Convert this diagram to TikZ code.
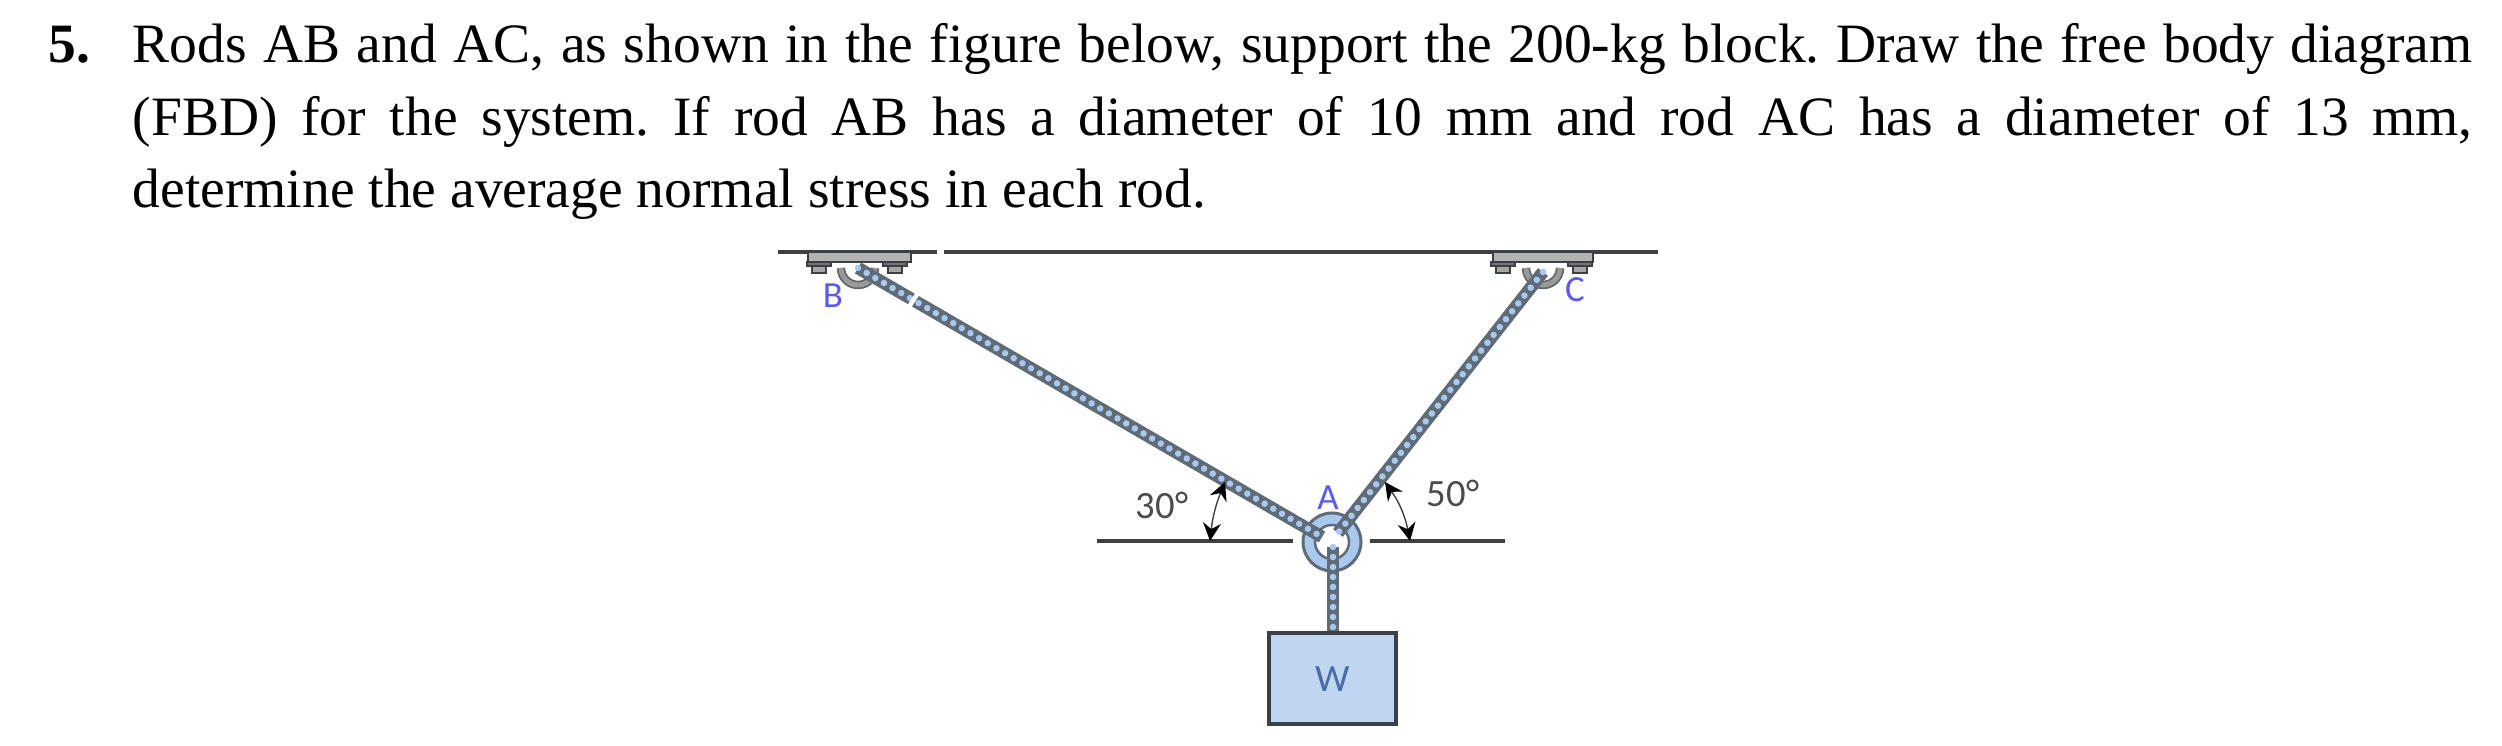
\documentclass[tikz,border=0pt]{standalone}
\usepackage{fontspec}
\setmainfont{Liberation Serif}
\newfontfamily\labelfont{Carlito}
\usetikzlibrary{arrows.meta}
\definecolor{rodedge}{HTML}{5F6C78}
\definecolor{rodbead}{HTML}{A9C8EE}
\definecolor{blockblue}{HTML}{BFD5F0}
\definecolor{edgedark}{HTML}{3C4044}
\definecolor{letterblue}{HTML}{5A5AF0}
\definecolor{weightblue}{HTML}{4A6AA8}
\tikzset{
	textline/.style={anchor=base west,inner sep=0pt,font=\fontsize{15.8}{20}\selectfont\frenchspacing},
	pointlabel/.style={inner sep=0pt,text=letterblue,font=\labelfont\fontsize{10.5}{12}\selectfont},
	anglelabel/.style={inner sep=0pt,text=black!70,font=\labelfont\fontsize{11}{12}\selectfont},
	refline/.style={line width=0.035cm,draw=black!75},
	anglearrow/.style={line width=0.014cm,draw=black!75,{Stealth[length=0.18cm,width=0.18cm,inset=0.06cm,color=black]}-{Stealth[length=0.18cm,width=0.18cm,inset=0.06cm,color=black]}}
}
\def\rod(#1)(#2){\draw[line width=0.125cm,rodedge] (#1) -- (#2);
	\draw[line width=0.065cm,rodbead,line cap=round,dash pattern=on 0pt off 0.1cm] (#1) -- (#2);}
\def\bolt(#1,#2){\draw[fill=black!55,draw=edgedark,line width=0.02cm] (#1-0.12,#2) rectangle (#1+0.12,#2-0.04);
	\draw[fill=black!35,draw=edgedark,line width=0.02cm] (#1-0.07,#2-0.04) rectangle (#1+0.07,#2-0.11);}
\def\mount(#1,#2){\draw[line width=0.085cm,edgedark!80] (#1-0.17,#2) arc (180:360:0.17);
	\draw[line width=0.05cm,black!40] (#1-0.17,#2) arc (180:360:0.17);}

\begin{document}
\begin{tikzpicture}
	\useasboundingbox (0,0) rectangle (25.02,7.46);
	
	\node[textline] (number) at (0.48,6.83) {\textbf{5.}};
	\node[textline] (lineone) at (1.32,6.83) {\makebox[23.4cm][s]{Rods AB and AC, as shown in the figure below, support the 200-kg block. Draw the free body diagram}};
	\node[textline] (linetwo) at (1.32,6.10) {\makebox[23.4cm][s]{(FBD) for the system. If rod AB has a diameter of 10 mm and rod AC has a diameter of 13 mm,}};
	\node[textline] (linethree) at (1.32,5.38) {determine the average normal stress in each rod.};
	
	\coordinate (B) at (8.58,4.78);
	\coordinate (C) at (15.43,4.74);
	\coordinate (A) at (13.32,2.04);
	\coordinate (Aleft) at (13.22,2.09);
	\coordinate (Aright) at (13.38,2.13);
	\coordinate (Adown) at (13.33,1.99);
	\coordinate (Wtop) at (13.33,1.13);
	
	% ceiling
	\draw[refline] (7.78,4.94) -- (9.37,4.94);
	\draw[refline] (9.44,4.94) -- (16.58,4.94);
	
	% plates and bolts
	\draw[fill=black!30,draw=edgedark,line width=0.025cm] (8.08,4.94) rectangle (9.11,4.84);
	\draw[fill=black!30,draw=edgedark,line width=0.025cm] (14.93,4.94) rectangle (15.93,4.84);
	\bolt(8.19,4.84)
	\bolt(8.95,4.84)
	\bolt(15.03,4.84)
	\bolt(15.80,4.84)
	\mount(8.58,4.78)
	\mount(15.43,4.78)
	
	% ring
	\draw[fill=rodbead,draw=rodedge,line width=0.03cm] (A) circle (0.29);
	\draw[fill=white,draw=rodedge,line width=0.025cm] (A) circle (0.17);
	
	% rods
	\rod(B)(Aleft)
	\rod(C)(Aright)
	\rod(Adown)(Wtop)
	\draw[line width=0.045cm,white] (9.18,4.53) -- (9.07,4.36);
	
	% block
	\draw[fill=blockblue,draw=edgedark,line width=0.04cm] (12.69,1.13) rectangle (13.96,0.22);
	\node[inner sep=0pt,text=weightblue,font=\labelfont\fontsize{11}{12}\selectfont] (weight) at (13.33,0.67) {W};
	
	% angles
	\coordinate (arcleftlow) at (12.10,2.05);
	\coordinate (arcleftup) at (12.25,2.64);
	\coordinate (arcrightlow) at (14.10,2.05);
	\coordinate (arcrightup) at (13.85,2.64);
	\draw[refline] (10.97,2.05) -- (12.93,2.05);
	\draw[refline] (13.70,2.05) -- (15.05,2.05);
	\draw[anglearrow] (arcleftlow) to[bend left=8] (arcleftup);
	\draw[anglearrow] (arcrightlow) to[bend right=12] (arcrightup);
	\node[anglelabel] (thirty) at (11.62,2.41) {30°};
	\node[anglelabel] (fifty) at (14.53,2.53) {50°};
	
	\node[pointlabel] (labelB) at (8.33,4.50) {B};
	\node[pointlabel] (labelC) at (15.75,4.56) {C};
	\node[pointlabel] (labelA) at (13.28,2.48) {A};
\end{tikzpicture}
\end{document}
